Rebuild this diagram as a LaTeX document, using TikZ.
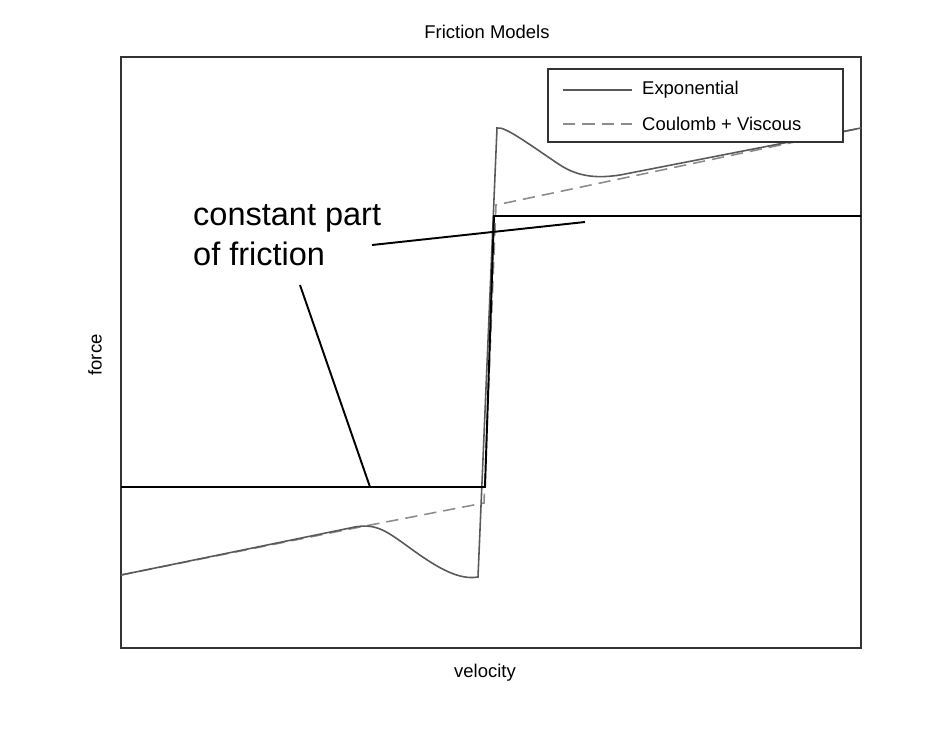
\documentclass[tikz,border=0pt]{standalone}
\usepackage{fontspec}
\setmainfont{Liberation Sans}
\begin{document}
\begin{tikzpicture}[x=0.02cm,y=-0.02cm,
  gr/.style={draw=black!65,line width=0.9pt},
  dsh/.style={draw=black!45,line width=0.9pt,dash pattern=on 7pt off 4pt},
  blk/.style={draw=black,line width=1.1pt},
  small/.style={font=\fontsize{10.5}{12}\selectfont}]
\useasboundingbox (0,0) rectangle (947,754);
\draw[black!80,line width=0.8pt] (121,57) rectangle (861,648);
\node[small] (t) at (487,32) {Friction Models};
\node[small] (v) at (485,673) {velocity};
\node[small,rotate=90] (f) at (95,355) {force};
% dashed
\draw[dsh] (121,575) -- (360,527) -- (484,503) -- (496,205) -- (861,128);
% exponential
\draw[gr] (121,575) -- (350,528) .. controls (375,522) and (385,530) .. (410,548)
  .. controls (440,570) and (460,580) .. (478,577) -- (497,128)
  .. controls (505,126) and (530,145) .. (560,165) .. controls (580,178) and (600,178) .. (620,175) -- (861,128);
% constant
\draw[blk] (121,487) -- (485,487) -- (494,216) -- (861,216);
% legend
\draw[black!80,fill=white,line width=0.8pt] (548,69) rectangle (843,142);
\draw[gr] (563,90) -- (632,90);
\node[small,anchor=west] (le) at (636,90) {Exponential};
\draw[dsh] (563,124) -- (632,124);
\node[small,anchor=west] (lc) at (636,124) {Coulomb + Viscous};
% annotation
\node[anchor=west,font=\fontsize{18.5}{23}\selectfont,align=left] (a) at (187,235) {constant part\\of friction};
\draw[blk] (372,245) -- (585,222);
\draw[blk] (300,285) -- (370,487);
\end{tikzpicture}
\end{document}
